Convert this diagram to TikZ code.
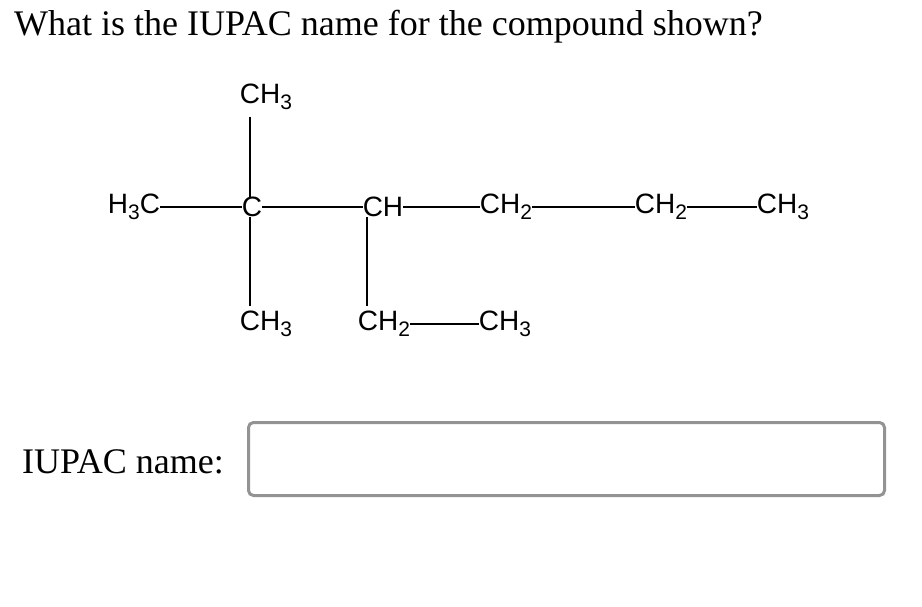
\documentclass[tikz,border=0pt]{standalone}
\usepackage{fontspec}
\setmainfont{Liberation Serif}
\newfontfamily\chemf{Liberation Sans}
\newcommand{\sbs}[1]{\raisebox{-0.2em}{\fontsize{21}{21}\selectfont #1}}
\begin{document}
\begin{tikzpicture}[x=1pt,y=-1pt,
  atom/.style={font=\chemf\fontsize{28}{28}\selectfont, inner sep=0pt},
  bond/.style={line width=2pt}]
\useasboundingbox (0,0) rectangle (922,607);
\node[anchor=base west, font=\fontsize{36}{36}\selectfont, inner sep=0] (title) at (14,36) {What is the IUPAC name for the compound shown?};
% atoms
\node[atom] (top) at (266,97) {CH\sbs{3}};
\node[atom] (h3c) at (134,207) {H\sbs{3}C};
\node[atom] (c) at (252,207) {C};
\node[atom] (ch) at (383,207) {CH};
\node[atom] (ch2a) at (506,207) {CH\sbs{2}};
\node[atom] (ch2b) at (661,207) {CH\sbs{2}};
\node[atom] (ch3r) at (783,207) {CH\sbs{3}};
\node[atom] (bot1) at (266,324) {CH\sbs{3}};
\node[atom] (bot2) at (384,324) {CH\sbs{2}};
\node[atom] (bot3) at (505,324) {CH\sbs{3}};
% bonds
\draw[bond] (h3c.east) -- (c.west);
\draw[bond] (c.east) -- (ch.west);
\draw[bond] (ch.east) -- (ch2a.west);
\draw[bond] (ch2a.east) -- (ch2b.west);
\draw[bond] (ch2b.east) -- (ch3r.west);
\draw[bond] (bot2.east) -- (bot3.west);
\coordinate (vt) at (250,117);
\coordinate (vb) at (250,306);
\coordinate (v2) at (367,306);
\draw[bond] (vt) -- (c.north -| vt);
\draw[bond] (c.south -| vb) -- (vb);
\draw[bond] (ch.south -| v2) -- (v2);
% answer
\node[anchor=base west, font=\fontsize{36}{36}\selectfont, inner sep=0] (lab) at (22,473) {IUPAC name:};
\node[draw=gray!85, line width=3pt, rounded corners=5pt, minimum width=636pt, minimum height=73pt, anchor=north west] (box) at (247,421) {};
\end{tikzpicture}
\end{document}
